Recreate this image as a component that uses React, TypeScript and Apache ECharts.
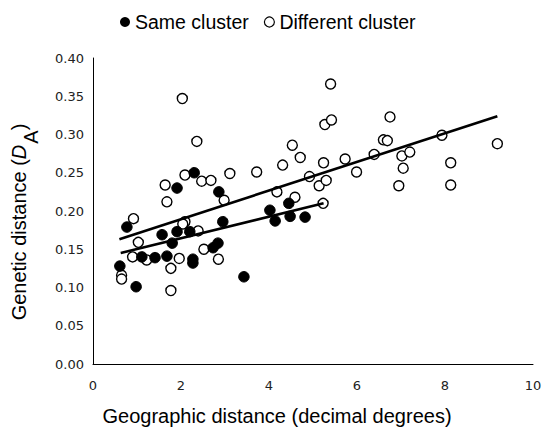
import React, { useEffect, useRef } from "react";
import * as echarts from "echarts";

const legendNames = ["Same cluster", "Different cluster"];
const xTicks = { min: 0, max: 10, interval: 2 };
const yTicks = { min: 0, max: 0.4, interval: 0.05 };

const sameClusterX = [0.61, 0.77, 0.98, 1.11, 1.41, 1.68, 1.57, 1.91, 1.8, 2.2, 2.27, 2.27, 2.73, 2.84, 2.95, 3.43, 4.02, 4.14, 4.45, 4.48, 4.82, 1.91, 2.3, 2.86];
const sameClusterY = [0.128, 0.179, 0.101, 0.14, 0.139, 0.141, 0.169, 0.173, 0.158, 0.173, 0.137, 0.132, 0.152, 0.158, 0.186, 0.114, 0.201, 0.187, 0.21, 0.193, 0.192, 0.23, 0.25, 0.225];

const diffClusterX = [0.65, 0.65, 0.92, 1.03, 0.9, 1.22, 1.77, 1.96, 1.77, 1.68, 1.64, 2.09, 2.04, 2.39, 2.52, 2.85, 2.98, 4.18, 4.59, 2.47, 2.68, 2.03, 2.36, 2.09, 3.11, 3.72, 4.31, 4.53, 4.71, 5.4, 5.27, 5.42, 5.24, 5.73, 5.99, 6.39, 6.6, 6.69, 6.75, 7.02, 7.2, 7.05, 6.95, 7.93, 8.13, 8.13, 9.19, 4.92, 5.14, 5.3, 5.23];
const diffClusterY = [0.116, 0.111, 0.19, 0.159, 0.14, 0.136, 0.125, 0.138, 0.096, 0.212, 0.234, 0.186, 0.183, 0.174, 0.15, 0.137, 0.214, 0.225, 0.218, 0.239, 0.24, 0.347, 0.291, 0.247, 0.249, 0.251, 0.26, 0.286, 0.27, 0.366, 0.313, 0.319, 0.263, 0.268, 0.251, 0.274, 0.293, 0.292, 0.323, 0.272, 0.277, 0.256, 0.233, 0.299, 0.263, 0.234, 0.288, 0.245, 0.233, 0.24, 0.21];

const sameTrendX = [0.63, 5.24];
const sameTrendY = [0.145, 0.21];
const diffTrendX = [0.6, 9.19];
const diffTrendY = [0.163, 0.324];

const zip = (xs: number[], ys: number[]) => xs.map((x, i) => [x, ys[i]]);

export default function App() {
  const ref = useRef<HTMLDivElement>(null);
  useEffect(() => {
    if (!ref.current) return;
    const chart = echarts.init(ref.current, undefined, { renderer: "svg" });
    const tickFont = { fontFamily: "DejaVu Sans", fontSize: 13, color: "#222" };
    chart.setOption({
      animation: false,
      backgroundColor: "#fff",
      grid: { left: 93, right: 17, top: 58, bottom: 68 },
      legend: {
        data: [
          { name: legendNames[0], itemStyle: { color: "#000", borderWidth: 0, opacity: 1 } },
          { name: legendNames[1], itemStyle: { color: "#fff", borderColor: "#000", borderWidth: 1.2, opacity: 1 } },
        ],
        icon: "circle",
        left: 115,
        top: 7,
        itemWidth: 10,
        itemHeight: 10,
        itemGap: 15,
        textStyle: { fontFamily: "Liberation Sans", fontSize: 19.5, color: "#000" },
      },
      xAxis: {
        type: "value",
        ...xTicks,
        axisLine: { show: true, lineStyle: { color: "#000", width: 1 } },
        axisTick: { show: false },
        splitLine: { show: false },
        axisLabel: { ...tickFont, margin: 15 },
      },
      yAxis: {
        type: "value",
        ...yTicks,
        axisLine: { show: true, lineStyle: { color: "#000", width: 1 } },
        axisTick: { show: false },
        splitLine: { show: false },
        axisLabel: { ...tickFont, margin: 9, formatter: (v: number) => v.toFixed(2) },
      },
      graphic: [
        {
          type: "text",
          x: 277,
          y: 416,
          style: {
            text: "Geographic distance (decimal degrees)",
            fontFamily: "Liberation Sans",
            fontSize: 20,
            fill: "#000",
            align: "center",
            verticalAlign: "middle",
          },
        },
        {
          type: "text",
          x: 21,
          y: 222,
          rotation: Math.PI / 2,
          style: {
            text: "{a|Genetic distance (}{i|D}{s|A}{a|)}",
            align: "center",
            verticalAlign: "middle",
            rich: {
              a: { fontFamily: "Liberation Sans", fontSize: 20, fill: "#000", verticalAlign: "top", lineHeight: 24 },
              i: { fontFamily: "Liberation Sans", fontSize: 20, fontStyle: "italic", fill: "#000", verticalAlign: "top", lineHeight: 24 },
              s: { fontFamily: "Liberation Sans", fontSize: 20, fill: "#000", verticalAlign: "top", lineHeight: 24, padding: [12, 0, 0, 1] },
            },
          },
        },
      ],
      series: [
        {
          name: legendNames[0],
          type: "scatter",
          data: zip(sameClusterX, sameClusterY),
          symbol: "circle",
          symbolSize: 10.5,
          itemStyle: { color: "#000", borderColor: "#000", borderWidth: 1, opacity: 1 },
          z: 3,
        },
        {
          name: legendNames[1],
          type: "scatter",
          data: zip(diffClusterX, diffClusterY),
          symbol: "circle",
          symbolSize: 10,
          itemStyle: { color: "#fff", borderColor: "#000", borderWidth: 1.4, opacity: 1 },
          z: 2,
        },
        {
          name: "same-trend",
          type: "line",
          data: zip(sameTrendX, sameTrendY),
          showSymbol: false,
          symbol: "none",
          lineStyle: { color: "#000", width: 2.6 },
          z: 4,
        },
        {
          name: "diff-trend",
          type: "line",
          data: zip(diffTrendX, diffTrendY),
          showSymbol: false,
          symbol: "none",
          lineStyle: { color: "#000", width: 2.6 },
          z: 4,
        },
      ],
    });
    return () => chart.dispose();
  }, []);
  return (
    <div
      ref={ref}
      style={{ position: "fixed", left: 0, top: 0, width: 550, height: 432, background: "#fff" }}
    />
  );
}
